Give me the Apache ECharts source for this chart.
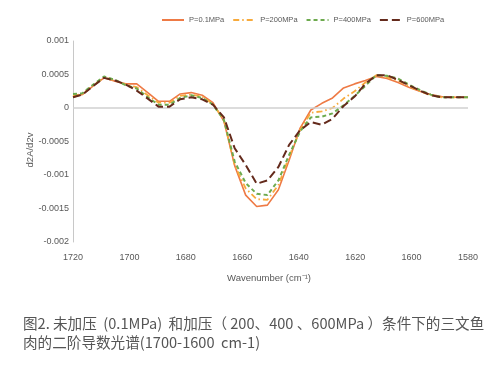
<!DOCTYPE html>
<html><head><meta charset="utf-8">
<script src="https://cdn.jsdelivr.net/npm/echarts@6/dist/echarts.min.js"></script>
<style>html,body{margin:0;padding:0;background:#fff}#c{width:494px;height:370px}</style>
</head><body><div id="c"></div>
<script>
const waves = [1720.0,1716.7,1712.8,1709.0,1705.1,1701.3,1697.4,1693.5,1689.7,1685.8,1682.0,1678.1,1674.2,1670.4,1666.5,1662.7,1658.8,1654.9,1651.1,1647.2,1643.4,1639.5,1635.7,1631.8,1628.0,1624.1,1620.2,1616.4,1612.5,1608.7,1604.8,1601.0,1597.1,1593.2,1589.4,1585.5,1581.7,1580.0];
const p01 = [0.00016,0.0002,0.00033,0.00045,0.0004,0.00036,0.00036,0.00023,0.0001,0.0001,0.00021,0.00023,0.00019,0.00008,-0.0002,-0.00086,-0.0013,-0.00147,-0.00145,-0.00122,-0.00078,-0.0003,-0.00003,0.00007,0.00015,0.0003,0.00036,0.00041,0.00047,0.00044,0.00038,0.00031,0.00025,0.0002,0.00017,0.00016,0.00016,0.00016];
const p200 = [0.00018,0.00021,0.00034,0.00046,0.00041,0.00035,0.00031,0.00019,0.00008,0.00008,0.00018,0.0002,0.00017,0.00006,-0.00018,-0.00085,-0.0012,-0.00136,-0.00137,-0.00115,-0.00073,-0.00033,-0.00007,-0.00005,0.0,0.00014,0.00025,0.00038,0.00049,0.00046,0.00041,0.00033,0.00025,0.00019,0.00016,0.00016,0.00016,0.00016];
const p400 = [0.00021,0.00022,0.00035,0.00047,0.00042,0.00034,0.00029,0.00016,0.00005,0.00005,0.00015,0.00019,0.00015,0.00005,-0.00018,-0.0008,-0.00112,-0.00128,-0.0013,-0.00108,-0.0007,-0.00035,-0.00014,-0.00013,-0.00008,0.00004,0.00018,0.00033,0.00049,0.00048,0.00044,0.00035,0.00027,0.0002,0.00016,0.00016,0.00016,0.00016];
const p600 = [0.00016,0.0002,0.00033,0.00045,0.00041,0.00035,0.00026,0.00014,0.00002,0.00002,0.00013,0.00016,0.00013,0.00005,-0.00014,-0.0006,-0.00085,-0.00113,-0.00108,-0.00088,-0.00055,-0.00033,-0.00021,-0.00025,-0.00016,0.00003,0.00017,0.00036,0.00049,0.00049,0.00042,0.00034,0.00026,0.00019,0.00016,0.00016,0.00016,0.00016];
const seriesNames = ['P=0.1MPa','P=200MPa','P=400MPa','P=600MPa'];
const captionLines = ['图2. 未加压  (0.1MPa)  和加压（ 200、400 、600MPa ）条件下的三文鱼','肉的二阶导数光谱(1700-1600  cm-1)'];

const pair = arr => waves.map((w,i)=>[w,arr[i]]);
const styles = [
  {color:'#EE7A45', width:1.6, type:'solid'},
  {color:'#F7AA3C', width:1.8, type:[6,3,1.5,3]},
  {color:'#6DAA4E', width:2, type:[4,3]},
  {color:'#642A1C', width:2, type:[8,4]}
];
const vals = [p01,p200,p400,p600];
const chart = echarts.init(document.getElementById('c'));
chart.setOption({
  animation:false,
  grid:{left:73,right:26,top:41,bottom:128},
  legend:{top:16,left:161,itemWidth:22,itemHeight:8,itemGap:8,padding:0,
    itemStyle:{opacity:0},
    textStyle:{fontSize:7.5,color:'#595959',fontFamily:'Liberation Sans'},
    data:seriesNames},
  xAxis:{type:'value',min:1580,max:1720,interval:20,inverse:true,
    axisLine:{show:false},axisTick:{show:false},splitLine:{show:false},
    axisLabel:{color:'#595959',fontSize:9,margin:11,fontFamily:'Liberation Sans',formatter:v=>String(v)}},
  yAxis:{type:'value',min:-0.002,max:0.001,interval:0.0005,
    axisLine:{show:true,lineStyle:{color:'#c8c8c8',width:1}},axisTick:{show:false},
    splitLine:{show:false},
    axisLabel:{color:'#595959',fontSize:9,margin:4,fontFamily:'Liberation Sans'}},
  graphic:[
    {type:'text',x:30,y:150,rotation:Math.PI/2,style:{text:'d2A/d2v',fill:'#595959',fontSize:9.5,fontFamily:'Liberation Sans',align:'center',verticalAlign:'middle'}},
    {type:'text',x:269,y:278,style:{text:'Wavenumber (cm⁻¹)',fill:'#595959',fontSize:9.5,fontFamily:'Liberation Sans',align:'center',verticalAlign:'middle'}},
    {type:'text',x:23,y:323,style:{text:captionLines[0],fill:'#555',fontSize:14.6,fontFamily:'Noto Sans CJK SC',verticalAlign:'middle'}},
    {type:'text',x:23,y:342,style:{text:captionLines[1],fill:'#555',fontSize:14.6,fontFamily:'Noto Sans CJK SC',verticalAlign:'middle'}}
  ],
  series: vals.map((v,i)=>({
    name:seriesNames[i],type:'line',data:pair(v),symbol:'none',
    lineStyle:styles[i],itemStyle:{color:styles[i].color},z:3+i,
    markLine: i===0 ? {silent:true,symbol:'none',label:{show:false},
      lineStyle:{color:'#d0d0d0',width:1.5,type:'solid'},data:[{yAxis:0}]} : undefined
  }))
});
</script></body></html>
